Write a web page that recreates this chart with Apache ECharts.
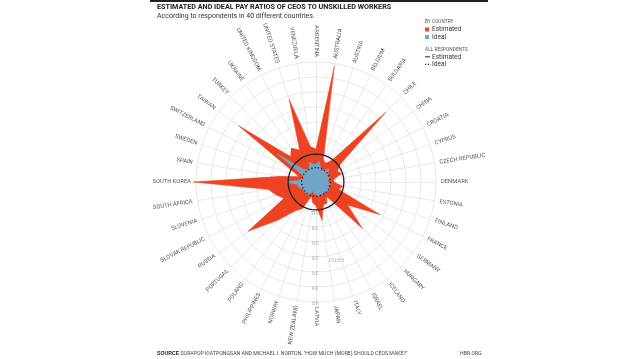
<!DOCTYPE html>
<html><head><meta charset="utf-8">
<script src="https://cdn.jsdelivr.net/npm/echarts@6/dist/echarts.min.js"></script>
<style>html,body{margin:0;padding:0;background:#fff}#c{width:638px;height:359px}</style>
</head><body><div id="c"></div>
<script>
// ---- data ----
const countries = ['ARGENTINA','AUSTRALIA','AUSTRIA','BELGIUM','BULGARIA','CHILE','CHINA','CROATIA','CYPRUS','CZECH REPUBLIC',
  'DENMARK','ESTONIA','FINLAND','FRANCE','GERMANY','HUNGARY','ICELAND','ISRAEL','ITALY','JAPAN',
  'LATVIA','NEW ZEALAND','NORWAY','PHILIPPINES','POLAND','PORTUGAL','RUSSIA','SLOVAK REPUBLIC','SLOVENIA','SOUTH AFRICA',
  'SOUTH KOREA','SPAIN','SWEDEN','SWITZERLAND','TAIWAN','TURKEY','UKRAINE','UNITED KINGDOM','UNITED STATES','VENEZUELA'];
const estimated = [11,39,8,7,9,33,10,8,9,6, 6,9,8,24,13,22,6,8,8,13, 8,7,5,10,12,18,28,12,14,16, 41,12,6,10,32,12,14,12,29,12];
const ideal     = [6,7,5,4,5,6,5,4,5,4, 4,5,4,5,5,5,4,5,4,5, 4,4,3,5,5,5,5,5,6,6, 10,5,4,5,16,6,5,5,7,6];
const overallEstimated = 9.3;
const overallIdeal = 4.8;
const ratioTicks = [10,15,20,25,30,35,40];
const ratioMax = 40;

// radar lays indicators counter-clockwise; reorder so countries run clockwise from the top
const order = countries.map((_, k) => k === 0 ? 0 : countries.length - k);
const pick = arr => order.map(i => arr[i]);

const RED = '#EE4323', BLUE = '#58B6E6';
const cx = 316, cy = 182, R = 120;

const chart = echarts.init(document.getElementById('c'), null, {renderer:'canvas'});
const labelData = countries.map((n, i) => {
  const th = i * 360 / countries.length;
  const right = th > 0 && th <= 180;
  return {value:[1, i], name:n, label:{rotate: right ? 90 - th : 270 - th, align: right ? 'left' : 'right'}};
});

chart.setOption({
  animation:false,
  backgroundColor:'#fff',
  radar:{
    center:[cx, cy], radius:R, startAngle:90, shape:'circle', splitNumber:8,
    indicator: pick(countries).map(n => ({name:n, min:0, max:ratioMax})),
    axisName:{show:false},
    splitLine:{lineStyle:{color:'#e2e2e2', width:0.8}},
    splitArea:{show:false},
    axisLine:{lineStyle:{color:'#e2e2e2', width:0.8}},
    axisTick:{show:false}, axisLabel:{show:false}
  },
  polar:[{center:[cx, cy], radius:R}, {center:[cx, cy], radius:R + 5}],
  angleAxis:[
    {polarIndex:0, type:'value', min:0, max:360, startAngle:-90, show:false},
    {polarIndex:1, type:'value', min:0, max:countries.length, startAngle:90, clockwise:true, show:false}
  ],
  radiusAxis:[
    {polarIndex:0, type:'value', min:0, max:ratioMax, interval:5, z:1,
     axisLine:{show:false}, axisTick:{show:false}, splitLine:{show:false},
     axisLabel:{show:true, rotate:180, fontSize:6, color:'#b0b0b0', fontFamily:'Roboto', margin:-4,
       formatter: v => ratioTicks.includes(v) ? String(v) : ''}},
    {polarIndex:1, type:'value', min:0, max:1, show:false}
  ],
  series:[
    {type:'radar', z:3, symbol:'none', silent:true,
     data:[{value:pick(estimated), name:'Estimated', lineStyle:{width:0.5, color:RED}, areaStyle:{color:RED, opacity:1}}]},
    {type:'radar', z:4, symbol:'none', silent:true,
     data:[{value:pick(ideal), name:'Ideal', lineStyle:{width:0.5, color:BLUE, opacity:0.85}, areaStyle:{color:BLUE, opacity:0.85}}]},
    {type:'radar', z:5, symbol:'none', silent:true,
     data:[{value:countries.map(() => overallEstimated), name:'All estimated', lineStyle:{width:1.3, color:'#222'}}]},
    {type:'radar', z:5, symbol:'none', silent:true,
     data:[{value:countries.map(() => overallIdeal), name:'All ideal', lineStyle:{width:1.3, color:'#222', type:[1.3,2.2]}}]},
    {type:'scatter', coordinateSystem:'polar', polarIndex:1, symbolSize:0, silent:true, clip:false,
     data:labelData,
     label:{show:true, position:'inside', formatter: p => p.name, fontSize:5.8, color:'#2a2a2a',
       fontFamily:'Roboto', verticalAlign:'middle'}}
  ],
  graphic:[
    {type:'rect', shape:{x:150, y:0, width:338, height:2}, style:{fill:'#222'}},
    {type:'text', x:157, y:4, style:{text:'ESTIMATED AND IDEAL PAY RATIOS OF CEOS TO UNSKILLED WORKERS', fontSize:7.2, fontWeight:'bold', fontFamily:'Roboto', fill:'#222'}},
    {type:'text', x:157, y:12.5, style:{text:'According to respondents in 40 different countries.', fontSize:7, fontFamily:'Roboto', fill:'#333'}},
    {type:'text', x:425, y:19.5, style:{text:'BY COUNTRY', fontSize:4.8, fontFamily:'Roboto', fill:'#555'}},
    {type:'rect', shape:{x:425, y:27.5, width:4, height:4}, style:{fill:RED}},
    {type:'text', x:432, y:26, style:{text:'Estimated', fontSize:6.5, fontFamily:'Roboto', fill:'#333'}},
    {type:'rect', shape:{x:425, y:35, width:4, height:4}, style:{fill:BLUE}},
    {type:'text', x:432, y:33.5, style:{text:'Ideal', fontSize:6.5, fontFamily:'Roboto', fill:'#333'}},
    {type:'text', x:425, y:47, style:{text:'ALL RESPONDENTS', fontSize:4.8, fontFamily:'Roboto', fill:'#555'}},
    {type:'line', shape:{x1:425, y1:56.8, x2:430, y2:56.8}, style:{stroke:'#222', lineWidth:1}},
    {type:'text', x:432, y:53.5, style:{text:'Estimated', fontSize:6.5, fontFamily:'Roboto', fill:'#333'}},
    {type:'line', shape:{x1:425, y1:64.3, x2:431, y2:64.3}, style:{stroke:'#222', lineWidth:1.2, lineDash:[1.2,1.6]}},
    {type:'text', x:432, y:61, style:{text:'Ideal', fontSize:6.5, fontFamily:'Roboto', fill:'#333'}},
    {type:'text', x:344, y:262, rotation:Math.PI, style:{text:'RATIO', fontSize:5.5, fontFamily:'Roboto', fill:'#b0b0b0'}},
    {type:'text', x:157, y:351, style:{text:'{b|SOURCE} SORAPOP KIATPONGSAN AND MICHAEL I. NORTON, "HOW MUCH (MORE) SHOULD CEOS MAKE?"',
      fontSize:5.2, fontFamily:'Roboto', fill:'#444', rich:{b:{fontWeight:'bold', fontSize:5.2, fill:'#222'}}}},
    {type:'text', x:460, y:351, style:{text:'HBR.ORG', fontSize:5.2, fontFamily:'Roboto', fill:'#444'}}
  ]
});
</script>
</body></html>
